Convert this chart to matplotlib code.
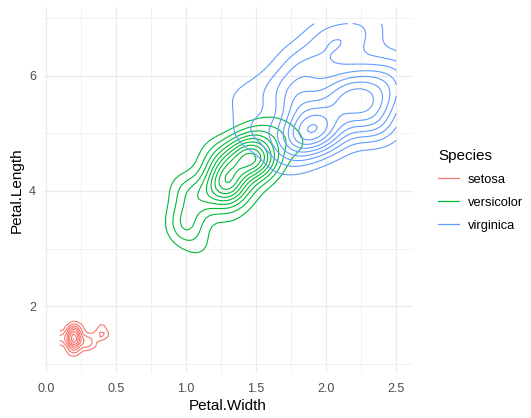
import numpy as np
import matplotlib
matplotlib.use("Agg")
import matplotlib.pyplot as plt
from matplotlib.lines import Line2D

plt.rcParams['font.family'] = ['Liberation Sans', 'DejaVu Sans']

# iris: Petal.Width / Petal.Length per species
species = ['setosa', 'versicolor', 'virginica']
colors = ['#F8766D', '#00BA38', '#619CFF']

setosa_w = [0.2, 0.2, 0.2, 0.2, 0.2, 0.4, 0.3, 0.2, 0.2, 0.1, 0.2, 0.2, 0.1, 0.1, 0.2, 0.4, 0.4,
            0.3, 0.3, 0.3, 0.2, 0.4, 0.2, 0.5, 0.2, 0.2, 0.4, 0.2, 0.2, 0.2, 0.2, 0.4, 0.1, 0.2,
            0.2, 0.2, 0.2, 0.1, 0.2, 0.2, 0.3, 0.3, 0.2, 0.6, 0.4, 0.3, 0.2, 0.2, 0.2, 0.2]
setosa_l = [1.4, 1.4, 1.3, 1.5, 1.4, 1.7, 1.4, 1.5, 1.4, 1.5, 1.5, 1.6, 1.4, 1.1, 1.2, 1.5, 1.3,
            1.4, 1.7, 1.5, 1.7, 1.5, 1.0, 1.7, 1.9, 1.6, 1.6, 1.5, 1.4, 1.6, 1.6, 1.5, 1.5, 1.4,
            1.5, 1.2, 1.3, 1.4, 1.3, 1.5, 1.3, 1.3, 1.3, 1.6, 1.9, 1.4, 1.6, 1.4, 1.5, 1.4]
versicolor_w = [1.4, 1.5, 1.5, 1.3, 1.5, 1.3, 1.6, 1.0, 1.3, 1.4, 1.0, 1.5, 1.0, 1.4, 1.3, 1.4,
                1.5, 1.0, 1.5, 1.1, 1.8, 1.3, 1.5, 1.2, 1.3, 1.4, 1.4, 1.7, 1.5, 1.0, 1.1, 1.0,
                1.2, 1.6, 1.5, 1.6, 1.5, 1.3, 1.3, 1.3, 1.2, 1.4, 1.2, 1.0, 1.3, 1.2, 1.3, 1.3,
                1.1, 1.3]
versicolor_l = [4.7, 4.5, 4.9, 4.0, 4.6, 4.5, 4.7, 3.3, 4.6, 3.9, 3.5, 4.2, 4.0, 4.7, 3.6, 4.4,
                4.5, 4.1, 4.5, 3.9, 4.8, 4.0, 4.9, 4.7, 4.3, 4.4, 4.8, 5.0, 4.5, 3.5, 3.8, 3.7,
                3.9, 5.1, 4.5, 4.5, 4.7, 4.4, 4.1, 4.0, 4.4, 4.6, 4.0, 3.3, 4.2, 4.2, 4.2, 4.3,
                3.0, 4.1]
virginica_w = [2.5, 1.9, 2.1, 1.8, 2.2, 2.1, 1.7, 1.8, 1.8, 2.5, 2.0, 1.9, 2.1, 2.0, 2.4, 2.3,
               1.8, 2.2, 2.3, 1.5, 2.3, 2.0, 2.0, 1.8, 2.1, 1.8, 1.8, 1.8, 2.1, 1.6, 1.9, 2.0,
               2.2, 1.5, 1.4, 2.3, 2.4, 1.8, 1.8, 2.1, 2.4, 2.3, 1.9, 2.3, 2.5, 2.3, 1.9, 2.0,
               2.3, 1.8]
virginica_l = [6.0, 5.1, 5.9, 5.6, 5.8, 6.6, 4.5, 6.3, 5.8, 6.1, 5.1, 5.3, 5.5, 5.0, 5.1, 5.3,
               5.5, 6.7, 6.9, 5.0, 5.7, 4.9, 6.7, 4.9, 5.7, 6.0, 4.8, 4.9, 5.6, 5.8, 6.1, 6.4,
               5.6, 5.1, 5.6, 6.1, 5.6, 5.5, 4.8, 5.4, 5.6, 5.1, 5.1, 5.9, 5.7, 5.2, 5.0, 5.2,
               5.4, 5.1]

widths = [setosa_w, versicolor_w, virginica_w]
lengths = [setosa_l, versicolor_l, virginica_l]


def bw_nrd(x):
    x = np.asarray(x)
    q1, q3 = np.percentile(x, [25, 75])
    h = (q3 - q1) / 1.34
    return 4 * 1.06 * min(np.std(x, ddof=1), h) * len(x) ** (-0.2)


def kde2d(x, y, gx, gy):
    x = np.asarray(x); y = np.asarray(y)
    hx = bw_nrd(x) / 4
    hy = bw_nrd(y) / 4
    ax_ = (gx[:, None] - x[None, :]) / hx
    ay_ = (gy[:, None] - y[None, :]) / hy
    dx = np.exp(-0.5 * ax_ ** 2) / np.sqrt(2 * np.pi)
    dy = np.exp(-0.5 * ay_ ** 2) / np.sqrt(2 * np.pi)
    # rows: y, cols: x
    return dy @ dx.T / (len(x) * hx * hy)


def pretty(lo, hi, n=10):
    cell = (hi - lo) / n
    U = 10 ** np.floor(np.log10(cell))
    unit = U
    h, h5 = 1.5, 0.5 + 1.5 * 1.5
    if 2 * U - cell < h * (cell - unit):
        unit = 2 * U
        if 5 * U - cell < h5 * (cell - unit):
            unit = 5 * U
            if 10 * U - cell < h * (cell - unit):
                unit = 10 * U
    ns = np.floor(lo / unit + 1e-7)
    nu = np.ceil(hi / unit - 1e-7)
    return np.arange(ns, nu + 1) * unit


all_w = np.concatenate(widths)
all_l = np.concatenate(lengths)
gx = np.linspace(all_w.min(), all_w.max(), 100)
gy = np.linspace(all_l.min(), all_l.max(), 100)

fig = plt.figure(figsize=(5.31, 4.18), dpi=100)
ax = fig.add_axes([0.081, 0.1077, 0.697, 0.8756])

pts = []
for w, l, c in zip(widths, lengths, colors):
    z = kde2d(w, l, gx, gy)
    lv = pretty(z.min(), z.max())
    lv = lv[(lv > z.min()) & (lv < z.max())]
    cs = ax.contour(gx, gy, z, levels=lv, colors=c, linewidths=0.8)
    for segs in cs.allsegs:
        for s in segs:
            if len(s):
                pts.append(s)

# scale range = extent of contour lines, expanded 5% like ggplot
pts = np.vstack(pts)
xmin, ymin = pts.min(axis=0)
xmax, ymax = pts.max(axis=0)
ax.set_xlim(xmin - 0.05 * (xmax - xmin), xmax + 0.05 * (xmax - xmin))
ax.set_ylim(ymin - 0.05 * (ymax - ymin), ymax + 0.05 * (ymax - ymin))

ax.set_xticks([0.0, 0.5, 1.0, 1.5, 2.0, 2.5])
ax.set_xticklabels(['0.0', '0.5', '1.0', '1.5', '2.0', '2.5'])
ax.set_yticks([2, 4, 6])
ax.set_xticks(np.arange(0.25, 2.6, 0.5), minor=True)
ax.set_yticks([1, 3, 5, 7], minor=True)
ax.grid(True, which='major', color='#EBEBEB', lw=0.9)
ax.grid(True, which='minor', color='#EBEBEB', lw=0.5)
ax.set_axisbelow(True)
for s in ax.spines.values():
    s.set_visible(False)
ax.tick_params(which='both', length=0, labelsize=9, labelcolor='#4D4D4D')
ax.tick_params(axis='x', pad=7)
ax.tick_params(axis='y', pad=5)
ax.set_xlabel('Petal.Width', fontsize=11, labelpad=3)
ax.set_ylabel('Petal.Length', fontsize=11, labelpad=4)

handles = [Line2D([], [], color=c, lw=0.9) for c in colors]
leg = fig.legend(handles, species, title='Species', loc='center left',
                 bbox_to_anchor=(0.803, 0.545), frameon=False, fontsize=9.3,
                 title_fontsize=11, handlelength=1.6, handletextpad=0.7,
                 labelspacing=0.85, alignment='left')

fig.savefig('out.png', dpi=100)
